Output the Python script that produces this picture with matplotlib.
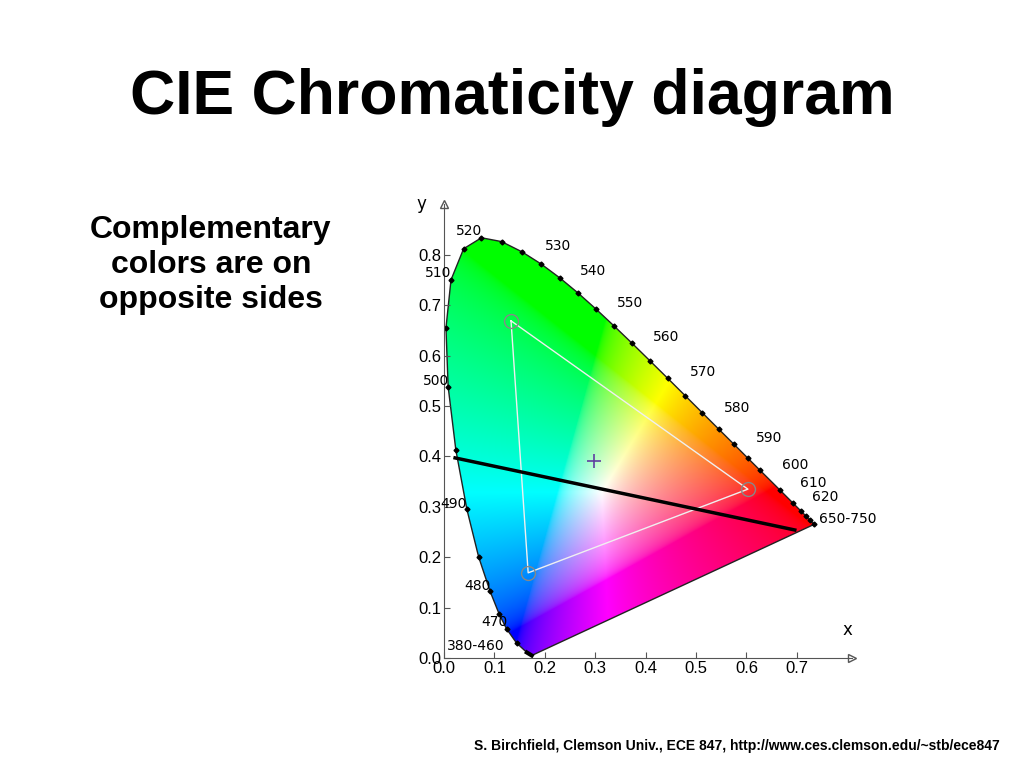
import numpy as np
import matplotlib
matplotlib.use("Agg")
import matplotlib.pyplot as plt
from matplotlib.path import Path
from matplotlib.patches import PathPatch

plt.rcParams['font.family'] = ['Liberation Sans', 'DejaVu Sans']

# CIE 1931 spectral locus
wl = [380,420,440,460,470,475,480,485,490,495,500,505,510,515,520,525,530,535,540,545,550,555,560,565,570,575,580,585,590,595,600,610,620,630,640,650,700]
lx = [0.1741,0.1714,0.1644,0.1440,0.1241,0.1096,0.0913,0.0687,0.0454,0.0235,0.0082,0.0039,0.0139,0.0389,0.0743,0.1142,0.1547,0.1929,0.2296,0.2658,0.3016,0.3373,0.3731,0.4087,0.4441,0.4788,0.5125,0.5448,0.5752,0.6029,0.6270,0.6658,0.6915,0.7079,0.7190,0.7260,0.7347]
ly = [0.0050,0.0051,0.0109,0.0297,0.0578,0.0868,0.1327,0.2007,0.2950,0.4127,0.5384,0.6548,0.7502,0.8120,0.8338,0.8262,0.8059,0.7816,0.7543,0.7243,0.6923,0.6589,0.6245,0.5896,0.5547,0.5202,0.4866,0.4544,0.4242,0.3965,0.3725,0.3340,0.3083,0.2920,0.2809,0.2740,0.2653]

labels = ["520","530","540","550","560","570","580","590","600","610","620","650-750","510","500","490","480","470","380-460"]
label_x = [0.023,0.200,0.270,0.343,0.415,0.488,0.556,0.619,0.671,0.706,0.730,0.745,-0.038,-0.042,-0.008,0.040,0.074,0.006]
label_y = [0.848,0.818,0.768,0.704,0.637,0.567,0.496,0.437,0.383,0.347,0.319,0.275,0.764,0.550,0.305,0.143,0.072,0.024]

prim_x = [0.133, 0.603, 0.167]
prim_y = [0.669, 0.335, 0.169]
white = (0.298, 0.391)
comp_x = [0.022, 0.696]
comp_y = [0.397, 0.254]

fig = plt.figure(figsize=(10.24, 7.68), dpi=100)
fig.text(0.5, 0.873, "CIE Chromaticity diagram", ha='center', va='center', fontsize=45, fontweight='bold')
fig.text(0.206, 0.655, "Complementary\ncolors are on\nopposite sides", ha='center', va='center', fontsize=23, fontweight='bold', linespacing=1.2)
fig.text(0.72, 0.028, "S. Birchfield, Clemson Univ., ECE 847, http://www.ces.clemson.edu/~stb/ece847", ha='center', va='center', fontsize=10, fontweight='bold')

x0, y0, s = 444, 658, 504.0
ax = fig.add_axes([x0/1024, (768-y0)/768, 0.81*s/1024, 0.9*s/768])
ax.set_xlim(0, 0.81); ax.set_ylim(0, 0.9)

# colour fill
n = 400
gx, gy = np.meshgrid(np.linspace(0, 0.81, n), np.linspace(0, 0.9, n))
gy_s = np.maximum(gy, 1e-4)
X = gx / gy_s; Y = np.ones_like(gx); Z = (1 - gx - gy) / gy_s
M = np.array([[3.2406,-1.5372,-0.4986],[-0.9689,1.8758,0.0415],[0.0557,-0.2040,1.0570]])
rgb = np.stack([X, Y, Z], -1) @ M.T
rgb = np.clip(rgb, 0, None)
rgb = rgb / np.maximum(rgb.max(-1, keepdims=True), 1e-9)
rgb = np.where(rgb <= 0.0031308, 12.92*rgb, 1.055*rgb**(1/2.4) - 0.055)
rgb = np.clip(rgb, 0, 1)
im = ax.imshow(rgb, origin='lower', extent=[0, 0.81, 0, 0.9], aspect='auto', interpolation='bilinear')
verts = list(zip(lx, ly)) + [(lx[0], ly[0])]
patch = PathPatch(Path(verts), facecolor='none', edgecolor='#222', lw=1.0)
ax.add_patch(patch)
im.set_clip_path(patch)
ax.plot(lx[3:], ly[3:], 'D', color='black', ms=2.5)
ax.plot([lx[0], lx[2]], [ly[0], ly[2]], color='black', lw=3)

for t, tx, ty in zip(labels, label_x, label_y):
    ax.text(tx, ty, t, fontsize=10, family=['DejaVu Sans'], va='center', ha='left', clip_on=False)

ax.plot(prim_x + [prim_x[0]], prim_y + [prim_y[0]], color='#f0f0f0', lw=1)
ax.plot(prim_x, prim_y, 'o', ms=10, mfc='none', mec='#888888', mew=1)
ax.plot(*white, '+', color='#6040a0', ms=10, mew=1.2)
ax.plot(comp_x, comp_y, color='black', lw=2.5)

for sp in ['top', 'right']:
    ax.spines[sp].set_visible(False)
ax.spines['left'].set_color('#555'); ax.spines['bottom'].set_color('#555')
ax.plot(1, 0, '>', color='#555', transform=ax.transAxes, clip_on=False, ms=6, mfc='none')
ax.plot(0, 1, '^', color='#555', transform=ax.transAxes, clip_on=False, ms=6, mfc='none')
ax.text(0.79, 0.045, "x", fontsize=12, family=['DejaVu Sans'])
ax.text(-0.055, 0.89, "y", fontsize=12, family=['DejaVu Sans'])
ax.set_xticks(np.arange(0, 0.71, 0.1)); ax.set_yticks(np.arange(0, 0.81, 0.1))
ax.set_xticklabels([f"{v:.1f}" for v in np.arange(0, 0.71, 0.1)])
ax.set_yticklabels([f"{v:.1f}" for v in np.arange(0, 0.81, 0.1)])
ax.tick_params(labelsize=12, direction='in', length=4, color='#555', pad=2)
fig.savefig("out.png", dpi=100)
